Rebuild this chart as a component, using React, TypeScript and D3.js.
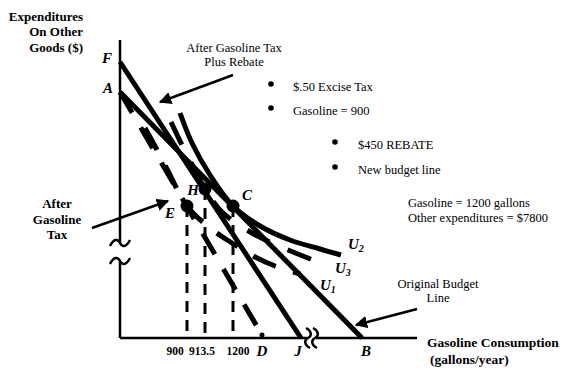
import React from "react";
import * as d3 from "d3";

// diagram units: x = gasoline (schematic), y = expenditures on other goods (schematic)
const originalBudget = [
  { x: 0, y: 246 },
  { x: 242, y: 0 },
];
const taxRebateBudget = [
  { x: 0, y: 276 },
  { x: 181, y: 0 },
];
const taxBudget = [
  { x: 0, y: 246 },
  { x: 142, y: 3 },
];

const curveU2 = [
  { x: 60, y: 225 },
  { x: 72, y: 195 },
  { x: 90, y: 163 },
  { x: 113, y: 132 },
  { x: 140, y: 112 },
  { x: 170, y: 98 },
  { x: 200, y: 89 },
  { x: 221, y: 83 },
];
const curveU3 = [
  { x: 51, y: 216 },
  { x: 62, y: 193 },
  { x: 75, y: 168 },
  { x: 85, y: 149 },
  { x: 102, y: 126 },
  { x: 132, y: 105 },
  { x: 152, y: 95 },
  { x: 173, y: 86 },
  { x: 198, y: 76 },
];
const curveU1 = [
  { x: 25, y: 210 },
  { x: 36, y: 190 },
  { x: 48, y: 167 },
  { x: 67, y: 132 },
  { x: 90, y: 110 },
  { x: 112, y: 95 },
  { x: 135, y: 81 },
  { x: 155, y: 72 },
  { x: 180, y: 64 },
];

const optimumLabels = ["E", "H", "C"];
const optimumX = [67, 85, 113];
const optimumY = [132, 149, 132];

const xTickLabels = ["900", "913.5", "1200"];
const xTickValues = [67, 85, 112];

const axisLetters = ["D", "J", "B"];
const axisLetterX = [142, 178, 246];

const serif = "'Liberation Serif', 'Times New Roman', serif";

const x = d3.scaleLinear().domain([0, 300]).range([120, 420]);
const y = d3.scaleLinear().domain([0, 300]).range([338, 38]);

const straight = d3
  .line<{ x: number; y: number }>()
  .x((d) => x(d.x))
  .y((d) => y(d.y));
const smooth = d3
  .line<{ x: number; y: number }>()
  .x((d) => x(d.x))
  .y((d) => y(d.y))
  .curve(d3.curveCatmullRom.alpha(0.5));

const tilde = (cx: number, cy: number) =>
  `M${cx - 10},${cy + 3} C${cx - 6},${cy - 5} ${cx - 2},${cy - 4} ${cx},${cy} C${cx + 2},${cy + 4} ${cx + 6},${cy + 5} ${cx + 10},${cy - 3}`;
const wave = (cx: number, cy: number) =>
  `M${cx - 2},${cy - 10} C${cx + 4},${cy - 7} ${cx + 4},${cy - 2} ${cx},${cy} C${cx - 4},${cy + 2} ${cx - 4},${cy + 7} ${cx + 2},${cy + 10}`;

const tickOffset = [-12, -3, 6];

const App = () => {
  return (
    <svg
      width={569}
      height={374}
      style={{ position: "absolute", left: 0, top: 0, background: "#fff" }}
      fontFamily={serif}
    >
      <defs>
        <marker
          id="arrow"
          viewBox="0 0 10 10"
          refX="9"
          refY="5"
          markerWidth="5"
          markerHeight="5"
          orient="auto"
        >
          <path d="M0,0 L10,5 L0,10 z" fill="#000" />
        </marker>
      </defs>

      {/* axes with breaks */}
      <line x1={x(0)} y1={y(0)} x2={x(0)} y2={y(77)} stroke="#000" strokeWidth={2.5} />
      <line x1={x(0)} y1={y(95)} x2={x(0)} y2={y(298)} stroke="#000" strokeWidth={2.5} />
      <path d={tilde(x(0), y(95))} fill="none" stroke="#000" strokeWidth={2.5} />
      <path d={tilde(x(0), y(77))} fill="none" stroke="#000" strokeWidth={2.5} />
      <line x1={x(0)} y1={y(0)} x2={x(187)} y2={y(0)} stroke="#000" strokeWidth={2.5} />
      <line x1={x(196)} y1={y(0)} x2={x(297)} y2={y(0)} stroke="#000" strokeWidth={2.5} />
      <path d={wave(x(188), y(0))} fill="none" stroke="#000" strokeWidth={2.5} />
      <path d={wave(x(195), y(0))} fill="none" stroke="#000" strokeWidth={2.5} />

      {/* vertical guides */}
      {optimumX.map((v, i) => (
        <line
          key={"g" + i}
          x1={x(v)}
          x2={x(v)}
          y1={y(optimumY[i])}
          y2={y(0)}
          stroke="#000"
          strokeWidth={3}
          strokeDasharray="11 8"
        />
      ))}

      {/* budget lines */}
      <path d={straight(originalBudget)!} stroke="#000" strokeWidth={5} fill="none" />
      <path d={straight(taxRebateBudget)!} stroke="#000" strokeWidth={5} fill="none" />
      <path
        d={straight(taxBudget)!}
        stroke="#000"
        strokeWidth={5}
        fill="none"
        strokeDasharray="24 17"
      />
      <circle cx={x(taxBudget[1].x)} cy={y(taxBudget[1].y)} r={2.5} fill="#000" />

      {/* indifference curves */}
      <path d={smooth(curveU2)!} stroke="#000" strokeWidth={5} fill="none" />
      <path d={smooth(curveU3)!} stroke="#000" strokeWidth={5} fill="none" strokeDasharray="25 20" />
      <path d={smooth(curveU1)!} stroke="#000" strokeWidth={5} fill="none" strokeDasharray="25 18" />

      {/* optimum points */}
      {optimumX.map((v, i) => (
        <circle key={"p" + i} cx={x(v)} cy={y(optimumY[i])} r={6.5} fill="#000" />
      ))}
      <g fontStyle="italic" fontWeight="bold" fontSize={15}>
        <text x={170} y={218} textAnchor="middle">{optimumLabels[0]}</text>
        <text x={193} y={195} textAnchor="middle">{optimumLabels[1]}</text>
        <text x={247} y={200} textAnchor="middle">{optimumLabels[2]}</text>
        <text x={102} y={63}>F</text>
        <text x={103} y={93}>A</text>
        {axisLetters.map((l, i) => (
          <text key={l} x={x(axisLetterX[i])} y={356} textAnchor="middle">
            {l}
          </text>
        ))}
        <text x={348} y={249}>
          U<tspan fontSize={10} dy={3}>2</tspan>
        </text>
        <text x={335} y={273}>
          U<tspan fontSize={10} dy={3}>3</tspan>
        </text>
        <text x={320} y={290}>
          U<tspan fontSize={10} dy={3}>1</tspan>
        </text>
      </g>

      {/* tick labels */}
      <g fontWeight="bold" fontSize={11.5} textAnchor="middle">
        {xTickValues.map((v, i) => (
          <text key={"t" + i} x={x(v) + tickOffset[i]} y={355}>
            {xTickLabels[i]}
          </text>
        ))}
      </g>

      {/* axis titles */}
      <g fontWeight="bold" fontSize={13} textAnchor="end">
        <text x={83} y={21}>Expenditures</text>
        <text x={83} y={36}>On Other</text>
        <text x={83} y={52}>Goods ($)</text>
      </g>
      <g fontWeight="bold" fontSize={13.5}>
        <text x={427} y={347}>Gasoline Consumption</text>
        <text x={430} y={364}>(gallons/year)</text>
      </g>
      <g fontWeight="bold" fontSize={13} textAnchor="middle">
        <text x={57} y={208}>After</text>
        <text x={57} y={224}>Gasoline</text>
        <text x={57} y={239}>Tax</text>
      </g>

      {/* annotations */}
      <g fontSize={12.5}>
        <text x={234} y={52} textAnchor="middle">After Gasoline Tax</text>
        <text x={234} y={66} textAnchor="middle">Plus Rebate</text>
        <text x={293} y={91}>$.50 Excise Tax</text>
        <text x={293} y={115}>Gasoline = 900</text>
        <text x={358} y={149}>$450 REBATE</text>
        <text x={358} y={174}>New budget line</text>
        <text x={408} y={207}>Gasoline = 1200 gallons</text>
        <text x={408} y={222}>Other expenditures = $7800</text>
        <text x={438} y={288} textAnchor="middle">Original Budget</text>
        <text x={438} y={302} textAnchor="middle">Line</text>
      </g>
      <circle cx={271} cy={84} r={2.8} fill="#000" />
      <circle cx={271} cy={108} r={2.8} fill="#000" />
      <circle cx={335} cy={142} r={2.8} fill="#000" />
      <circle cx={335} cy={167} r={2.8} fill="#000" />

      <line x1={233} y1={75} x2={160} y2={102} stroke="#000" strokeWidth={2.5} markerEnd="url(#arrow)" />
      <line x1={92} y1={228} x2={168} y2={201} stroke="#000" strokeWidth={2.5} markerEnd="url(#arrow)" />
      <line x1={417} y1={309} x2={356} y2={325} stroke="#000" strokeWidth={2.5} markerEnd="url(#arrow)" />
    </svg>
  );
};

export default App;
